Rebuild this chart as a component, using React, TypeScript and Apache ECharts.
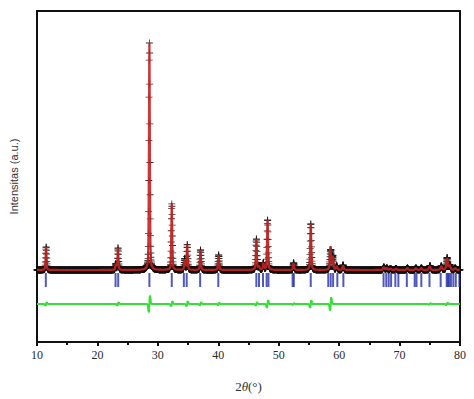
import React, { useEffect, useRef } from "react";
import * as echarts from "echarts";

// Reflections: position (2θ, °), height above background (a.u.), FWHM (°)
const peakPos = [11.5, 23.05, 23.4, 28.6, 32.3, 34.45, 34.85, 37.05, 40.05, 46.3, 46.75, 47.45, 48.15, 52.45, 55.3, 58.55, 58.95, 59.6, 60.65, 67.4, 67.9, 68.5, 69.4, 71.3, 72.7, 73.6, 75.0, 76.9, 77.85, 78.3, 79.2];
const peakHeight = [23, 6, 22, 227, 66, 11, 25, 20, 15, 31, 4, 7, 50, 7, 46, 23, 14, 4, 5, 3, 2, 1.5, 1.5, 2, 2, 2, 4, 4, 12, 5, 2];
const peakFwhm = [0.18, 0.18, 0.18, 0.18, 0.19, 0.19, 0.19, 0.19, 0.2, 0.21, 0.21, 0.21, 0.21, 0.22, 0.22, 0.23, 0.23, 0.23, 0.24, 0.26, 0.26, 0.26, 0.26, 0.27, 0.27, 0.27, 0.28, 0.28, 0.28, 0.28, 0.29];

// Bragg reflection positions (blue ticks)
const braggPos = [11.46, 23.0, 23.44, 28.6, 32.3, 34.3, 34.77, 37.0, 40.0, 46.3, 46.74, 47.4, 48.0, 48.3, 52.3, 52.5, 55.3, 58.2, 58.6, 59.0, 59.7, 60.7, 67.35, 67.8, 68.2, 68.6, 69.3, 69.8, 71.2, 72.5, 72.8, 73.6, 74.95, 76.8, 77.8, 78.0, 78.2, 78.5, 78.9, 79.3, 79.9];

// Misfit (observed - calculated) at reflections
const misfitPos = [11.5, 23.4, 28.6, 32.3, 34.85, 37.05, 40.05, 46.3, 48.15, 52.45, 55.3, 58.6, 75.0, 77.85];
const misfitAmp = [2, 2, 9, 3, 3, 2, 1.5, 2, 4, 1, 4, 7, 1, 1.5];

const xTicks = [10, 20, 30, 40, 50, 60, 70, 80];
const yRange = [-72, 259];
const diffOffset = -34;
const braggLevel = -10;
const step = 0.025;

function pv(x: number, x0: number, w: number) {
  const t = (x - x0) / w;
  const eta = 0.4;
  return eta / (1 + 4 * t * t) + (1 - eta) * Math.exp(-4 * Math.LN2 * t * t);
}

function misfitShape(x: number, x0: number, w: number) {
  const t = (x - x0) / (w * 0.5);
  if (Math.abs(t) > 8) return 0;
  return t * Math.exp((1 - t * t) / 2);
}

function buildSeries() {
  const calc: number[][] = [];
  const obs: number[][] = [];
  const diff: number[][] = [];
  const n = Math.round((xTicks[xTicks.length - 1] - xTicks[0]) / step);
  for (let i = 0; i <= n; i++) {
    const x = +(xTicks[0] + i * step).toFixed(3);
    let c = 0;
    for (let k = 0; k < peakPos.length; k++) c += peakHeight[k] * pv(x, peakPos[k], peakFwhm[k]);
    let d = 0;
    for (let k = 0; k < misfitPos.length; k++) d += misfitAmp[k] * misfitShape(x, misfitPos[k], 0.2);
    calc.push([x, c]);
    obs.push([x, c + d]);
    diff.push([x, diffOffset + d]);
  }
  return { calc, obs, diff };
}

export default function App() {
  const ref = useRef<HTMLDivElement>(null);
  useEffect(() => {
    if (!ref.current) return;
    const chart = echarts.init(ref.current, null, { renderer: "svg" });
    const { calc, obs, diff } = buildSeries();
    chart.setOption({
      animation: false,
      backgroundColor: "#ffffff",
      grid: {
        left: 36,
        right: 14,
        top: 11,
        bottom: 57,
        show: true,
        borderColor: "#111",
        borderWidth: 2,
        backgroundColor: "transparent",
      },
      xAxis: {
        type: "value",
        min: 10,
        max: 80,
        interval: 10,
        name: "2{i|θ}(°)",
        nameLocation: "middle",
        nameGap: 38,
        nameTextStyle: {
          fontFamily: "Liberation Serif",
          fontSize: 13,
          color: "#333",
          rich: { i: { fontFamily: "Liberation Serif", fontStyle: "italic", fontSize: 13, color: "#333" } },
        },
        axisLine: { show: true, onZero: false, lineStyle: { color: "#111", width: 2 } },
        axisTick: { show: true, inside: false, length: 4, lineStyle: { color: "#111", width: 2 } },
        minorTick: { show: true, splitNumber: 2, length: 3, lineStyle: { color: "#111", width: 2 } },
        axisLabel: { fontFamily: "Liberation Serif", fontSize: 12, color: "#2a2a2a", margin: 7 },
        splitLine: { show: false },
      },
      yAxis: {
        type: "value",
        min: yRange[0],
        max: yRange[1],
        name: "Intensitas (a.u.)",
        nameLocation: "middle",
        nameGap: 18,
        nameTextStyle: { fontFamily: "Liberation Sans", fontSize: 11, color: "#333" },
        axisLine: { show: false },
        axisTick: { show: false },
        axisLabel: { show: false },
        splitLine: { show: false },
      },
      series: [
        {
          type: "line",
          data: diff,
          showSymbol: false,
          lineStyle: { color: "#33e033", width: 2 },
          z: 2,
        },
        {
          type: "scatter",
          data: braggPos.map((p) => [p, braggLevel]),
          symbol: "rect",
          symbolSize: [2, 14],
          itemStyle: { color: "#2430a8" },
          z: 3,
        },
        {
          type: "scatter",
          data: obs,
          symbol: "path://M4.4,0H5.6V4.4H10V5.6H5.6V10H4.4V5.6H0V4.4H4.4Z",
          symbolSize: 7,
          itemStyle: { color: "#111111", opacity: 0.85 },
          z: 4,
        },
        {
          type: "line",
          data: calc,
          showSymbol: false,
          lineStyle: { color: "#c42222", width: 2.2, opacity: 0.9 },
          z: 5,
        },
      ],
    });
    return () => chart.dispose();
  }, []);
  return (
    <div
      ref={ref}
      style={{ position: "fixed", left: 0, top: 0, width: 474, height: 399 }}
    />
  );
}
